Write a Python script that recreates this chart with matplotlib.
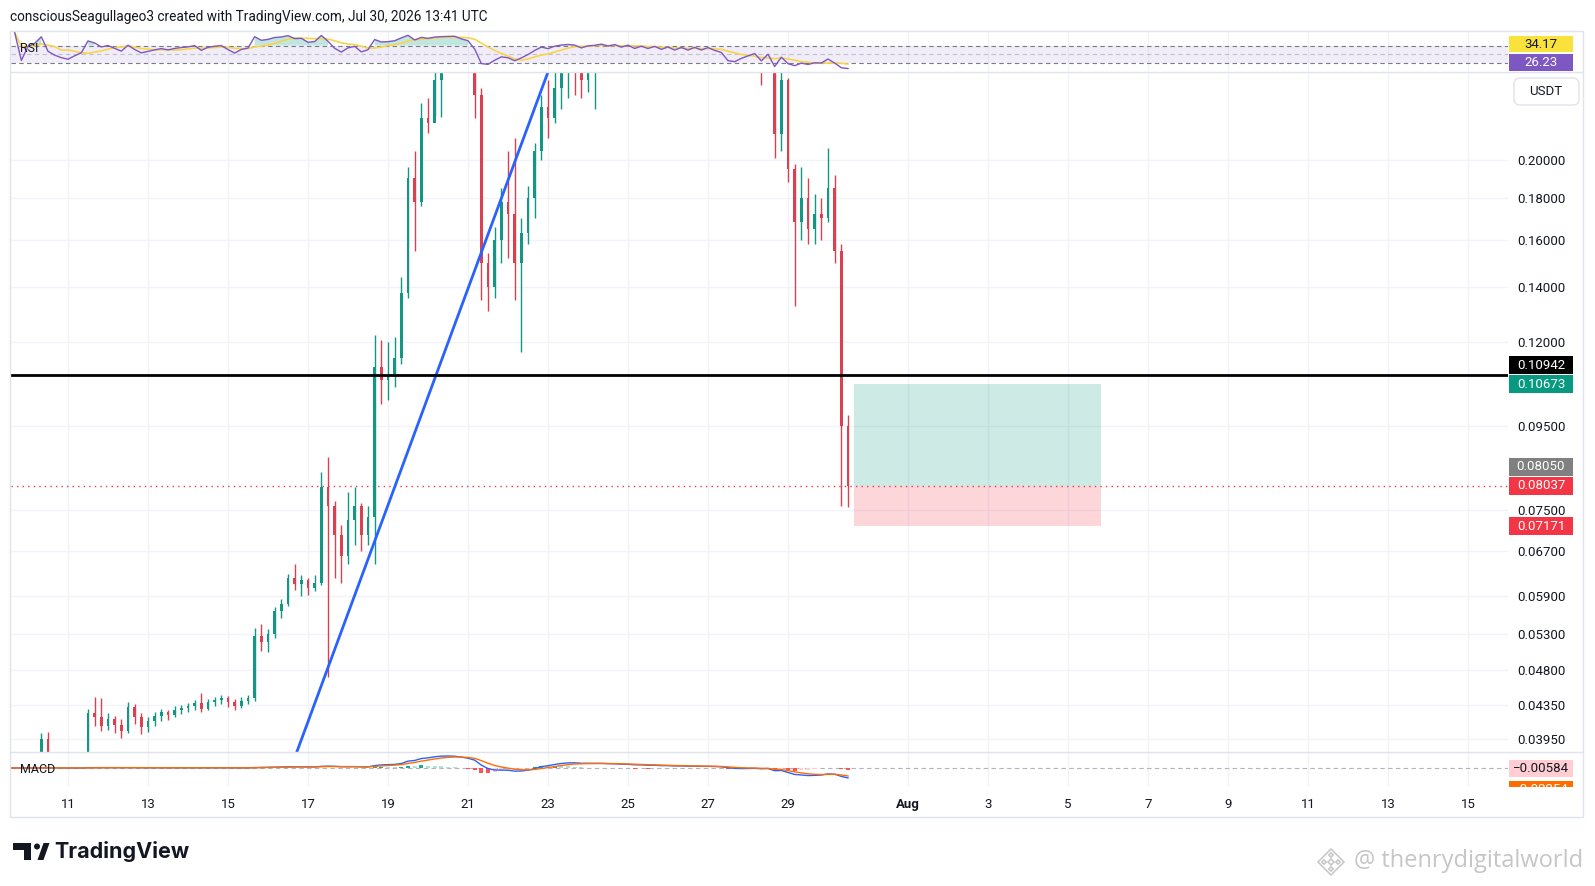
import numpy as np
import pandas as pd
import matplotlib
matplotlib.use("Agg")
import matplotlib.pyplot as plt
from matplotlib.patches import Rectangle, Polygon, Circle, FancyBboxPatch
from matplotlib.ticker import NullLocator

plt.rcParams['font.family'] = ['Roboto', 'DejaVu Sans']

# 4h candles, x axis = day of July (Aug 1 = 32)
first_day = 9.5
bar_len = 1 / 6
first_open = 0.0360

closes = [
    0.0362, 0.0366, 0.0360, 0.0368, 0.0372, 0.0395, 0.0376, 0.0368, 0.0362, 0.0358,
    0.0364, 0.0370, 0.0425, 0.0420, 0.0410, 0.0418, 0.0411, 0.0404, 0.0432, 0.0420,
    0.0409, 0.0415, 0.0421, 0.0426, 0.0423, 0.0428, 0.0431, 0.0433, 0.0437, 0.0430,
    0.0438, 0.0441, 0.0443, 0.0438, 0.0433, 0.0440, 0.0443, 0.0528, 0.0518, 0.0530,
    0.0565, 0.0576, 0.0620, 0.0610, 0.0616, 0.0604, 0.0612, 0.0800, 0.0760, 0.0700,
    0.0660, 0.0730, 0.0760, 0.0700, 0.0735, 0.1120, 0.1080, 0.1100, 0.1150, 0.1380,
    0.1900, 0.1780, 0.2250, 0.2220, 0.2500, 0.2620, 0.2680, 0.2720, 0.2660, 0.2620,
    0.2400, 0.1500, 0.1400, 0.1600, 0.1780, 0.1720, 0.1500, 0.1630, 0.1800, 0.2050,
    0.2320, 0.2250, 0.2450, 0.2550, 0.2600, 0.2580, 0.2500, 0.2620, 0.2650, 0.2720,
    0.2680, 0.2750, 0.2700, 0.2780, 0.2720, 0.2800, 0.2760, 0.2830, 0.2780, 0.2850,
    0.2800, 0.2870, 0.2830, 0.2900, 0.2860, 0.2920, 0.2880, 0.2850, 0.2680, 0.2650,
    0.2700, 0.2740, 0.2780, 0.2620, 0.2750, 0.2150, 0.2500, 0.1950, 0.1680, 0.1800,
    0.1650, 0.1720, 0.1700, 0.1850, 0.1550, 0.0950, 0.08037,
]
highs = [
    0.0368, 0.0370, 0.0369, 0.0372, 0.0378, 0.0402, 0.0403, 0.0379, 0.0371, 0.0366,
    0.0369, 0.0376, 0.0430, 0.0445, 0.0443, 0.0425, 0.0422, 0.0418, 0.0438, 0.0436,
    0.0425, 0.0420, 0.0426, 0.0430, 0.0429, 0.0433, 0.0435, 0.0437, 0.0441, 0.0449,
    0.0442, 0.0445, 0.0447, 0.0446, 0.0442, 0.0444, 0.0447, 0.0540, 0.0545, 0.0538,
    0.0572, 0.0585, 0.0628, 0.0646, 0.0625, 0.0620, 0.0625, 0.0834, 0.0870, 0.0770,
    0.0720, 0.0790, 0.0800, 0.0765, 0.0760, 0.1224, 0.1210, 0.1200, 0.1220, 0.1440,
    0.1960, 0.2050, 0.2350, 0.2380, 0.2750, 0.2850, 0.2850, 0.2900, 0.2820, 0.2760,
    0.2680, 0.2450, 0.1540, 0.1660, 0.1850, 0.2050, 0.2130, 0.1700, 0.1860, 0.2100,
    0.2400, 0.2500, 0.2620, 0.2700, 0.2750, 0.2750, 0.2700, 0.2800, 0.2850, 0.2800,
    0.2760, 0.2820, 0.2790, 0.2850, 0.2810, 0.2880, 0.2840, 0.2900, 0.2870, 0.2920,
    0.2890, 0.2950, 0.2910, 0.2970, 0.2940, 0.2990, 0.2960, 0.2930, 0.2880, 0.2730,
    0.2760, 0.2800, 0.2850, 0.2820, 0.2830, 0.2800, 0.2650, 0.2520, 0.1980, 0.1960,
    0.1900, 0.1820, 0.1800, 0.2070, 0.1920, 0.1580, 0.0980,
]
lows = [
    0.0356, 0.0358, 0.0355, 0.0358, 0.0364, 0.0370, 0.0372, 0.0362, 0.0356, 0.0352,
    0.0355, 0.0360, 0.0368, 0.0410, 0.0404, 0.0405, 0.0402, 0.0396, 0.0402, 0.0412,
    0.0401, 0.0403, 0.0410, 0.0415, 0.0417, 0.0420, 0.0424, 0.0426, 0.0428, 0.0426,
    0.0428, 0.0434, 0.0436, 0.0432, 0.0428, 0.0431, 0.0436, 0.0440, 0.0505, 0.0504,
    0.0525, 0.0555, 0.0574, 0.0600, 0.0590, 0.0592, 0.0598, 0.0608, 0.0470, 0.0620,
    0.0612, 0.0645, 0.0680, 0.0670, 0.0680, 0.0645, 0.1010, 0.1020, 0.1060, 0.1130,
    0.1360, 0.1550, 0.1760, 0.2160, 0.2260, 0.2256, 0.2580, 0.2620, 0.2590, 0.2570,
    0.2250, 0.1350, 0.1310, 0.1360, 0.1500, 0.1520, 0.1350, 0.1170, 0.1580, 0.1700,
    0.2000, 0.2130, 0.2220, 0.2310, 0.2380, 0.2400, 0.2380, 0.2420, 0.2308, 0.2620,
    0.2600, 0.2650, 0.2620, 0.2660, 0.2650, 0.2680, 0.2690, 0.2710, 0.2700, 0.2740,
    0.2720, 0.2760, 0.2750, 0.2790, 0.2780, 0.2810, 0.2790, 0.2770, 0.2600, 0.2580,
    0.2600, 0.2630, 0.2680, 0.2470, 0.2600, 0.2010, 0.2050, 0.1880, 0.1330, 0.1600,
    0.1580, 0.1580, 0.1600, 0.1680, 0.1500, 0.0758, 0.0757,
]

price_ticks = [0.0395, 0.0435, 0.048, 0.053, 0.059, 0.067, 0.075, 0.095,
               0.12, 0.14, 0.16, 0.18, 0.20]
day_ticks = [11, 13, 15, 17, 19, 21, 23, 25, 27, 29, 32, 34, 36, 38, 40, 42, 44, 46]
day_labels = ['11', '13', '15', '17', '19', '21', '23', '25', '27', '29', 'Aug',
              '3', '5', '7', '9', '11', '13', '15']

trend_days = [16.72, 23.0]
trend_prices = [0.0381, 0.256]
level_price = 0.10942
last_price = 0.08037
gray_price = 0.08050
target_price = 0.10673
stop_price = 0.07171
trade_days = [30.65, 36.83]

rsi_ma_last = '34.17'
rsi_last = '26.23'
macd_hist_last = '\u22120.00584'
macd_signal_last = '\u22120.02254'

header = 'consciousSeagullageo3 created with TradingView.com, Jul 30, 2026 13:41 UTC'

# ---- derived series
close = np.array(closes)
high = np.array(highs)
low = np.array(lows)
opens = np.r_[first_open, close[:-1]]
days = first_day + bar_len * np.arange(len(close))
UP, DOWN = '#089981', '#F23645'
cols = np.where(close >= opens, '#139683', '#DC3F4E')

# the screenshot is a 2h chart: RSI(14) / MACD(12, 26, 9) on 2h bars
# are about half as many 4h bars
s = pd.Series(close)
delta = s.diff()
gain = delta.clip(lower=0).ewm(alpha=1 / 7).mean()
loss = (-delta.clip(upper=0)).ewm(alpha=1 / 7).mean()
rsi = (100 - 100 / (1 + gain / loss)).values
rsi_ma = pd.Series(rsi).rolling(7, min_periods=1).mean().values

macd = (s.ewm(span=6, adjust=False).mean() - s.ewm(span=13, adjust=False).mean()).values
signal = pd.Series(macd).ewm(span=5, adjust=False).mean().values
hist = macd - signal
prev = np.r_[0, hist[:-1]]
hcol = np.where(hist >= 0, np.where(hist >= prev, '#26A69A', '#B2DFDB'),
                np.where(hist < prev, '#FF5252', '#FFCDD2'))

# ---- layout (pixels)
W, H = 1595, 886
fig = plt.figure(figsize=(W / 100, H / 100), dpi=100)
fig.patch.set_facecolor('white')


def rect(x0, y0, x1, y1):
    return [x0 / W, 1 - y1 / H, (x1 - x0) / W, (y1 - y0) / H]


L, R, S = 11, 1508, 1583
T_RSI, T_MAIN, T_MACD, B_MACD = 32, 72, 752, 787
GRID = '#F0F3FA'
TXT = '#131722'

ax_rsi = fig.add_axes(rect(L, T_RSI, R, T_MAIN))
ax = fig.add_axes(rect(L, T_MAIN, R, T_MACD))
ax_macd = fig.add_axes(rect(L, T_MACD, R, B_MACD))

for a in (ax_rsi, ax, ax_macd):
    a.set_facecolor('none')
    a.set_xlim(9.575, 47.0)
    for sp in a.spines.values():
        sp.set_visible(False)
    a.set_xticks(day_ticks)
    a.tick_params(axis='x', length=0, labelbottom=False)
    a.grid(axis='x', color=GRID, lw=1, zorder=0)
    a.set_axisbelow(True)

# main pane
ax.set_yscale('log')
ax.set_ylim(0.0381, 0.256)
ax.yaxis.set_minor_locator(NullLocator())
ax.set_yticks(price_ticks)
ax.set_yticklabels([f'{p:.5f}' for p in price_ticks])
ax.yaxis.tick_right()
ax.tick_params(axis='y', length=0, pad=7, labelsize=9.5, labelcolor=TXT)
ax.grid(axis='y', color=GRID, lw=1, zorder=0)

ax.vlines(days, low, high, colors=cols, lw=1, zorder=3)
ax.bar(days, np.abs(close - opens), bottom=np.minimum(close, opens), width=0.07,
       color=cols, zorder=3)
ax.plot(trend_days, trend_prices, color='#2962FF', lw=2, zorder=4)
ax.axhline(level_price, color='black', lw=2, zorder=5)
ax.axhline(last_price, color=DOWN, lw=1, ls=(0, (1, 3)), zorder=2)
ax.add_patch(Rectangle((trade_days[0], last_price), trade_days[1] - trade_days[0],
                       target_price - last_price, fc=UP, alpha=0.2, lw=0, zorder=1))
ax.add_patch(Rectangle((trade_days[0], stop_price), trade_days[1] - trade_days[0],
                       last_price - stop_price, fc=DOWN, alpha=0.2, lw=0, zorder=1))

# RSI pane
ax_rsi.set_ylim(10, 101)
ax_rsi.set_yticks([])
ax_rsi.axhspan(30, 70, color='#7E57C2', alpha=0.1, lw=0)
ax_rsi.axhline(70, color='#787B86', lw=0.8, ls=(0, (4, 3)))
ax_rsi.axhline(30, color='#787B86', lw=0.8, ls=(0, (4, 3)))
ax_rsi.axhline(50, color='#787B86', lw=0.8, ls=(0, (4, 3)), alpha=0.4)
ax_rsi.fill_between(days, rsi, 70, where=rsi > 70, color='#089981', alpha=0.25, lw=0)
ax_rsi.plot(days, rsi_ma, color='#F7D54A', lw=1.2)
ax_rsi.plot(days, rsi, color='#7E57C2', lw=1)
ax_rsi.text(9 / (R - L), 0.6, 'RSI', transform=ax_rsi.transAxes, fontsize=9,
            color=TXT, va='center')

# MACD pane
m = np.nanmax(macd)
ax_macd.set_ylim(-m * 19 / 12, m * 16 / 12)
ax_macd.set_yticks([])
ax_macd.axhline(0, color='#B2B5BE', lw=0.8, ls=(0, (4, 3)))
ax_macd.bar(days, hist, width=0.1, color=hcol, zorder=2)
ax_macd.plot(days, macd, color='#2962FF', lw=1, zorder=3)
ax_macd.plot(days, signal, color='#FF6D00', lw=1, zorder=3)
ax_macd.text(9 / (R - L), 0.49, 'MACD', transform=ax_macd.transAxes, fontsize=9,
             color=TXT, va='center')
ax_macd.set_xticklabels(day_labels)
ax_macd.tick_params(axis='x', labelbottom=True, pad=8, labelsize=9.5, labelcolor=TXT)
ax_macd.get_xticklabels()[day_labels.index('Aug')].set_fontweight('bold')

# price scale boxes
rs = fig.add_axes(rect(R, T_RSI, S, T_MAIN))
ps = fig.add_axes(rect(R, T_MAIN, S, T_MACD))
ms = fig.add_axes(rect(R, T_MACD, S, B_MACD))
for a, y0, y1 in ((rs, T_RSI, T_MAIN), (ps, T_MAIN, T_MACD), (ms, T_MACD, B_MACD)):
    a.set_xlim(R, S)
    a.set_ylim(y1, y0)
    a.axis('off')


def y_px(v):
    return H - ax.transData.transform((20, v))[1]


def tag(a, y, text, fc, tc='white', h=18):
    a.add_patch(Rectangle((R + 1, y - h / 2), 64, h, fc=fc, ec='none', clip_on=True))
    a.text(R + 33, y, text, color=tc, ha='center', va='center', fontsize=9.5,
           clip_on=True)


tag(ps, y_px(level_price) - 10, f'{level_price:.5f}', 'black')
tag(ps, y_px(target_price), f'{target_price:.5f}', UP)
tag(ps, y_px(last_price) - 19, f'{gray_price:.5f}', '#808080')
tag(ps, y_px(last_price), f'{last_price:.5f}', DOWN)
tag(ps, y_px(stop_price), f'{stop_price:.5f}', DOWN)
ps.add_patch(FancyBboxPatch((1514, 78), 65, 27, boxstyle='round,pad=0,rounding_size=6',
                            fc='white', ec='#E0E3EB', lw=1))
ps.text(1546, 91.5, 'USDT', ha='center', va='center', fontsize=9.5, color=TXT)

tag(rs, 44, rsi_ma_last, '#F9E23C', tc=TXT, h=16)
tag(rs, 62, rsi_last, '#7E57C2', h=17)
tag(ms, 768, macd_hist_last, '#FFCDD2', tc=TXT, h=17)
tag(ms, 789, macd_signal_last, '#FF6D00', h=17)

# overlay: frame, header, logos
over = fig.add_axes([0, 0, 1, 1])
over.set_xlim(0, W)
over.set_ylim(H, 0)
over.axis('off')
over.add_patch(Rectangle((10, 31), S - 10, 817 - 31, fill=False, ec='#E0E3EB', lw=1))
over.hlines([T_MAIN, T_MACD], 10, S, color='#E0E3EB', lw=1)
over.text(10, 17, header, fontsize=9.8, color=TXT, va='center')

over.add_patch(Polygon([(13, 843), (31, 843), (31, 860), (24, 860), (24, 849.5), (13, 849.5)],
                       closed=True, fc=TXT, ec='none'))
over.add_patch(Circle((37, 846.5), 3.0, fc=TXT, ec='none'))
over.add_patch(Polygon([(37.5, 860), (43.5, 860), (49.5, 843), (43.5, 843)],
                       closed=True, fc=TXT, ec='none'))
over.text(54, 852, 'TradingView', fontsize=15.5, fontweight='bold', color=TXT,
          va='center', family=['Inter', 'Roboto', 'DejaVu Sans'])

wm = '#C6C6C6'
cx, cy = 1331, 862
for dx, dy, r in ((0, 0, 3), (-7, 0, 2.2), (7, 0, 2.2), (0, -7, 2.2), (0, 7, 2.2)):
    over.add_patch(Polygon([(cx + dx - r, cy + dy), (cx + dx, cy - r + dy),
                            (cx + dx + r, cy + dy), (cx + dx, cy + r + dy)],
                           closed=True, fc='none', ec=wm, lw=1.1))
over.add_patch(Polygon([(cx - 13, cy), (cx, cy - 13), (cx + 13, cy), (cx, cy + 13)],
                       closed=True, fc='none', ec=wm, lw=1.1))
over.text(1354, 861, '@ thenrydigitalworld', fontsize=17, color=wm, va='center',
          family=['Open Sans', 'DejaVu Sans'])

fig.savefig('out.png', dpi=100, facecolor='white')
